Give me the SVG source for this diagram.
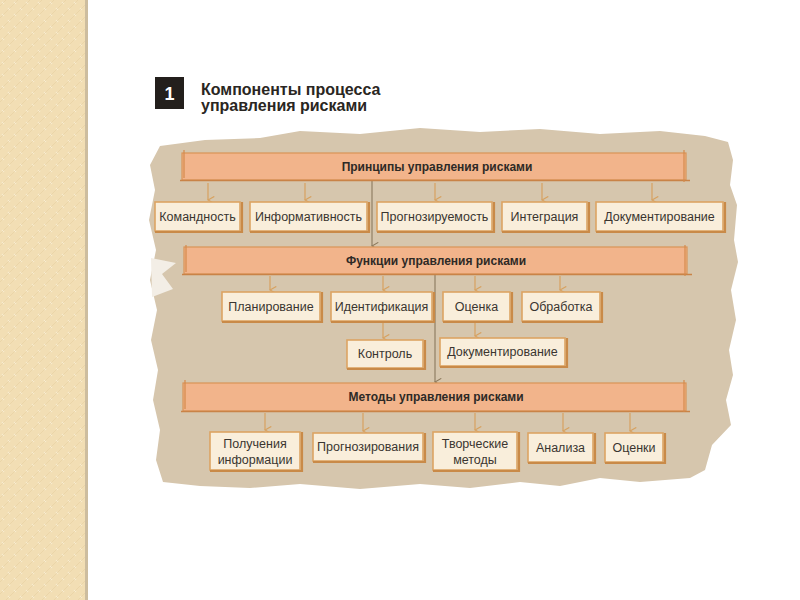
<svg xmlns="http://www.w3.org/2000/svg" width="800" height="600" viewBox="0 0 800 600">
<defs>
<pattern id="wv" width="12" height="12" patternUnits="userSpaceOnUse">
<rect width="12" height="12" fill="#f2deb4"/>
<circle cx="3" cy="3" r="1.3" fill="#f8ecd0"/>
<circle cx="9" cy="9" r="1.3" fill="#f8ecd0"/>
<path d="M0 6 L6 0 M6 12 L12 6" stroke="#ead3a4" stroke-width="0.8"/>
</pattern>
<marker id="ah" viewBox="0 0 10 10" refX="5" refY="9" markerWidth="9" markerHeight="9" orient="auto-start-reverse" markerUnits="userSpaceOnUse">
<path d="M1 2 L5 9 L9 2" fill="none" stroke="#d7a160" stroke-width="1.3"/>
</marker>
<marker id="ahd" viewBox="0 0 10 10" refX="5" refY="9" markerWidth="9" markerHeight="9" orient="auto-start-reverse" markerUnits="userSpaceOnUse">
<path d="M1 2 L5 9 L9 2" fill="none" stroke="#8a785c" stroke-width="1.2"/>
</marker>
<style>
.box{fill:#f9eedb;stroke:#dca463;stroke-width:1.6}
.shd{fill:none;stroke:#c98a48;stroke-width:2.2}
.band{fill:#f2b48b;stroke:#d99457;stroke-width:1.2}
.bline{fill:none;stroke:#c98347;stroke-width:1.6}
.tick{fill:none;stroke:#d48a4c;stroke-width:1.2}
.t{font-family:"Liberation Sans",Arial,sans-serif;font-size:12.5px;fill:#3a3530;text-anchor:middle}
.bt{font-family:"Liberation Sans",Arial,sans-serif;font-size:12px;font-weight:bold;fill:#2e2a26;text-anchor:middle}
.ttl{font-family:"Liberation Sans",Arial,sans-serif;font-size:16px;font-weight:bold;fill:#2a2622}
.ar{fill:none;stroke:#d7a160;stroke-width:1.2}
.tr{fill:none;stroke:#8a785c;stroke-width:1.1}
</style>
</defs>
<rect width="800" height="600" fill="#ffffff"/>
<rect x="0" y="0" width="86" height="600" fill="url(#wv)"/>
<rect x="85" y="0" width="3" height="600" fill="#cdbd9f"/>

<g id="title">
<rect x="155" y="77" width="29" height="32" fill="#231f1c"/>
<text x="169.5" y="100" font-family="Liberation Sans,Arial,sans-serif" font-size="18" font-weight="bold" fill="#ffffff" text-anchor="middle">1</text>
<text class="ttl" x="201" y="95">Компоненты процесса</text>
<text class="ttl" x="201" y="111">управления рисками</text>
</g>

<path id="brush" d="M160 146 L205 140 L260 138 L300 131 L360 134 L420 128 L480 132 L540 129 L600 134 L660 131 L705 136 L728 142 L733 160 L730 185 L737 205 L734 240 L738 262 L731 290 L736 320 L729 350 L733 375 L726 400 L731 425 L712 445 L705 470 L690 478 L640 482 L600 478 L560 486 L520 482 L470 488 L420 484 L360 489 L300 484 L250 488 L200 486 L163 482 L156 460 L160 430 L153 400 L158 370 L151 340 L157 310 L150 280 L156 250 L149 220 L155 190 L150 165 Z" fill="#d6c6ad"/>
<path d="M151 258 L176 263 L162 274 L173 289 L152 297 Z" fill="#f3eee6"/>

<g id="connectors">
<path class="tr" d="M372 180 L372 246" marker-end="url(#ahd)"/>
<path class="tr" d="M435 274 L435 382" marker-end="url(#ahd)"/>
<path class="ar" d="M208 183 L208 200" marker-end="url(#ah)"/>
<path class="ar" d="M305 183 L305 200" marker-end="url(#ah)"/>
<path class="ar" d="M435 183 L435 200" marker-end="url(#ah)"/>
<path class="ar" d="M542 183 L542 200" marker-end="url(#ah)"/>
<path class="ar" d="M652 183 L652 200" marker-end="url(#ah)"/>
<path class="ar" d="M270 276 L270 290" marker-end="url(#ah)"/>
<path class="ar" d="M383 276 L383 290" marker-end="url(#ah)"/>
<path class="ar" d="M475 276 L475 290" marker-end="url(#ah)"/>
<path class="ar" d="M560 276 L560 290" marker-end="url(#ah)"/>
<path class="ar" d="M383 323 L383 338" marker-end="url(#ah)"/>
<path class="ar" d="M475 322 L475 336" marker-end="url(#ah)"/>
<path class="ar" d="M265 413 L265 430" marker-end="url(#ah)"/>
<path class="ar" d="M363 413 L363 431" marker-end="url(#ah)"/>
<path class="ar" d="M475 413 L475 430" marker-end="url(#ah)"/>
<path class="ar" d="M563 413 L563 431" marker-end="url(#ah)"/>
<path class="ar" d="M630 413 L630 431" marker-end="url(#ah)"/>
</g>

<g id="band-principles">
<rect class="band" x="182" y="153" width="504" height="27"/>
<path class="bline" d="M180 180.5 L690 180.5"/>
<path class="tick" d="M184 150 L184 178 M684 150 L684 182"/>
<text class="bt" x="437" y="171">Принципы управления рисками</text>
</g>
<g id="band-functions">
<rect class="band" x="184" y="247" width="503" height="27"/>
<path class="bline" d="M182 274.5 L692 274.5"/>
<path class="tick" d="M186 245 L186 272 M685 245 L685 276"/>
<text class="bt" x="436" y="265">Функции управления рисками</text>
</g>
<g id="band-methods">
<rect class="band" x="183" y="383" width="503" height="28"/>
<path class="bline" d="M181 411.5 L690 411.5"/>
<path class="tick" d="M185 380 L185 409 M684 380 L684 412"/>
<text class="bt" x="436" y="401">Методы управления рисками</text>
</g>

<g id="n-komandnost"><rect class="box" x="155" y="202" width="85" height="29"/><path class="shd" d="M155 232 L242 232 L242 202"/><text class="t" x="197.5" y="221">Командность</text></g>
<g id="n-inform"><rect class="box" x="250" y="202" width="117" height="29"/><path class="shd" d="M250 232 L369 232 L369 202"/><text class="t" x="308.5" y="221">Информативность</text></g>
<g id="n-prognoz"><rect class="box" x="377" y="202" width="115" height="29"/><path class="shd" d="M377 232 L494 232 L494 202"/><text class="t" x="434.5" y="221">Прогнозируемость</text></g>
<g id="n-integr"><rect class="box" x="502" y="202" width="85" height="29"/><path class="shd" d="M502 232 L589 232 L589 202"/><text class="t" x="544.5" y="221">Интеграция</text></g>
<g id="n-doc1"><rect class="box" x="596" y="202" width="127" height="29"/><path class="shd" d="M596 232 L725 232 L725 202"/><text class="t" x="659.5" y="221">Документирование</text></g>

<g id="n-plan"><rect class="box" x="222" y="292" width="98" height="29"/><path class="shd" d="M222 322 L322 322 L322 292"/><text class="t" x="271" y="311">Планирование</text></g>
<g id="n-ident"><rect class="box" x="331" y="292" width="101" height="29"/><path class="shd" d="M331 322 L434 322 L434 292"/><text class="t" x="381.5" y="311">Идентификация</text></g>
<g id="n-ocenka"><rect class="box" x="443" y="292" width="67" height="29"/><path class="shd" d="M443 322 L512 322 L512 292"/><text class="t" x="476.5" y="311">Оценка</text></g>
<g id="n-obrab"><rect class="box" x="522" y="292" width="78" height="29"/><path class="shd" d="M522 322 L602 322 L602 292"/><text class="t" x="561" y="311">Обработка</text></g>
<g id="n-kontrol"><rect class="box" x="347" y="340" width="76" height="28"/><path class="shd" d="M347 369 L425 369 L425 340"/><text class="t" x="385" y="358">Контроль</text></g>
<g id="n-doc2"><rect class="box" x="440" y="338" width="125" height="28"/><path class="shd" d="M440 367 L567 367 L567 338"/><text class="t" x="502.5" y="356">Документирование</text></g>

<g id="n-poluch"><rect class="box" x="210" y="432" width="90" height="38"/><path class="shd" d="M210 471 L302 471 L302 432"/><text class="t" x="255" y="448">Получения</text><text class="t" x="255" y="464">информации</text></g>
<g id="n-progn"><rect class="box" x="313" y="433" width="110" height="28"/><path class="shd" d="M313 462 L425 462 L425 433"/><text class="t" x="368" y="451">Прогнозирования</text></g>
<g id="n-tvorch"><rect class="box" x="433" y="432" width="84" height="38"/><path class="shd" d="M433 471 L519 471 L519 432"/><text class="t" x="475" y="448">Творческие</text><text class="t" x="475" y="464">методы</text></g>
<g id="n-analiz"><rect class="box" x="528" y="433" width="65" height="29"/><path class="shd" d="M528 463 L595 463 L595 433"/><text class="t" x="560.5" y="452">Анализа</text></g>
<g id="n-ocenki"><rect class="box" x="605" y="433" width="58" height="29"/><path class="shd" d="M605 463 L665 463 L665 433"/><text class="t" x="634" y="452">Оценки</text></g>
</svg>
